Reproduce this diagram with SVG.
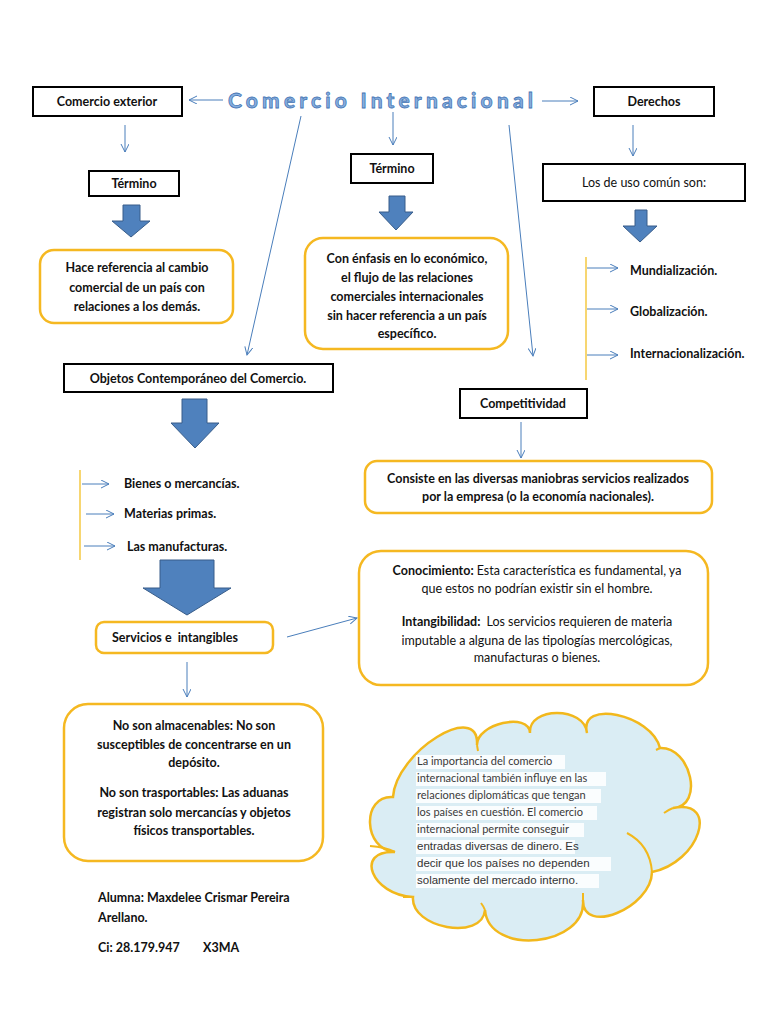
<svg xmlns="http://www.w3.org/2000/svg" width="768" height="1024" viewBox="0 0 768 1024">
<defs>
<marker id="ah" markerWidth="10" markerHeight="10" refX="8" refY="4" orient="auto" markerUnits="userSpaceOnUse">
<path d="M0,0 L8,4 L0,8" fill="none" stroke="#4a7ebb" stroke-width="1"/>
</marker>
<style>
.bx{fill:#fff;stroke:#000;stroke-width:2}
.yb{fill:#fff;stroke:#f5b821;stroke-width:2.5}
.t{font-family:Lato,"Liberation Sans",sans-serif;font-weight:bold;font-size:12.5px;fill:#111}
.n{font-weight:normal}
.c{text-anchor:middle}
.ln{fill:none;stroke:#4a7ebb;stroke-width:1;marker-end:url(#ah)}
.ba{fill:#4f81bd;stroke:#385d8a;stroke-width:1}
.yl{stroke:#f5c842;stroke-width:1.5}
.cl{font-family:Lato,"Liberation Sans",sans-serif;font-size:11px;fill:#3a3a3a}
.ca{font-family:"Liberation Sans",Arial,sans-serif;font-size:11.5px;fill:#333}
.cs{fill:none;stroke:#f2b81c;stroke-width:2.5}
</style>
</defs>
<rect width="768" height="1024" fill="#fff"/>

<g id="title">
<text x="228" y="108" textLength="308" font-family="Lato,'Liberation Sans',sans-serif" font-weight="bold" font-size="21" letter-spacing="3" fill="#86afe0" stroke="#4776b4" stroke-width="0.8">Comercio Internacional</text>
</g>

<g id="connectors">
<line class="ln" x1="223" y1="100" x2="189" y2="100"/>
<line class="ln" x1="542" y1="101" x2="578" y2="101"/>
<line class="ln" x1="125" y1="125" x2="125" y2="152"/>
<line class="ln" x1="301" y1="116" x2="247" y2="355"/>
<line class="ln" x1="393" y1="112" x2="393" y2="145"/>
<line class="ln" x1="509" y1="125" x2="533" y2="356"/>
<line class="ln" x1="633" y1="125" x2="633" y2="156"/>
<line class="ln" x1="521" y1="422" x2="521" y2="458"/>
<line class="ln" x1="287" y1="637" x2="357" y2="618"/>
<line class="ln" x1="187" y1="662" x2="187" y2="697"/>
<line class="yl" x1="586" y1="257" x2="586" y2="380"/>
<line class="ln" x1="587" y1="268" x2="618" y2="268"/>
<line class="ln" x1="587" y1="309" x2="618" y2="309"/>
<line class="ln" x1="587" y1="355" x2="618" y2="355"/>
<line class="yl" x1="80" y1="470" x2="80" y2="560"/>
<line class="ln" x1="82" y1="484" x2="109" y2="484"/>
<line class="ln" x1="86" y1="514" x2="114" y2="514"/>
<line class="ln" x1="84" y1="546" x2="115" y2="546"/>
</g>

<g id="arrows">
<polygon class="ba" points="123,205 140,205 140,221 150,221 131,237 112,221 123,221"/>
<polygon class="ba" points="389,196 405,196 405,212 413,212 396,230 379,212 389,212"/>
<polygon class="ba" points="635,210 647,210 647,226 657,226 640,242 623,226 635,226"/>
<polygon class="ba" points="182,399 207,399 207,423 219,423 195,448 171,423 182,423"/>
<polygon class="ba" points="160,560 214,560 214,588 231,588 187,615 143,588 160,588"/>
</g>

<g id="comercio-exterior">
<rect class="bx" x="33" y="87" width="149" height="29"/>
<text class="t c" x="107" y="106">Comercio exterior</text>
</g>
<g id="derechos">
<rect class="bx" x="594" y="87" width="120" height="29"/>
<text class="t c" x="654" y="106">Derechos</text>
</g>
<g id="termino1">
<rect class="bx" x="89" y="171" width="90" height="25"/>
<text class="t c" x="134" y="188">Término</text>
</g>
<g id="hace-referencia">
<rect class="yb" x="40" y="250" width="193" height="73" rx="14"/>
<text class="t c" x="137" y="272">Hace referencia al cambio</text>
<text class="t c" x="137" y="292">comercial de un país con</text>
<text class="t c" x="137" y="311">relaciones a los demás.</text>
</g>
<g id="termino2">
<rect class="bx" x="351" y="154" width="82" height="29"/>
<text class="t c" x="392" y="173">Término</text>
</g>
<g id="con-enfasis">
<rect class="yb" x="305" y="238" width="203" height="111" rx="18"/>
<text class="t c" x="407" y="263">Con énfasis en lo económico,</text>
<text class="t c" x="407" y="282">el flujo de las relaciones</text>
<text class="t c" x="407" y="301">comerciales internacionales</text>
<text class="t c" x="407" y="320">sin hacer referencia a un país</text>
<text class="t c" x="407" y="338">específico.</text>
</g>
<g id="uso-comun">
<rect class="bx" x="543" y="164" width="202" height="37"/>
<text class="t c n" x="644" y="187">Los de uso común son:</text>
</g>
<g id="derechos-items">
<text class="t" x="630" y="275">Mundialización.</text>
<text class="t" x="630" y="316">Globalización.</text>
<text class="t" x="630" y="358">Internacionalización.</text>
</g>
<g id="objetos">
<rect class="bx" x="64" y="364" width="269" height="28"/>
<text class="t c" x="198" y="383">Objetos Contemporáneo del Comercio.</text>
</g>
<g id="objetos-items">
<text class="t" x="124" y="488">Bienes o mercancías.</text>
<text class="t" x="124" y="518">Materias primas.</text>
<text class="t" x="127" y="551">Las manufacturas.</text>
</g>
<g id="competitividad">
<rect class="bx" x="460" y="389" width="127" height="29"/>
<text class="t c" x="523" y="408">Competitividad</text>
</g>
<g id="consiste">
<rect class="yb" x="365" y="461" width="347" height="52" rx="12"/>
<text class="t c" x="538" y="483">Consiste en las diversas maniobras servicios realizados</text>
<text class="t c" x="538" y="501">por la empresa (o la economía nacionales).</text>
</g>
<g id="servicios">
<rect class="yb" x="96" y="622" width="177" height="31" rx="8"/>
<text class="t c" x="175" y="642">Servicios e&#160; intangibles</text>
</g>
<g id="conocimiento">
<rect class="yb" x="359" y="551" width="349" height="134" rx="22"/>
<text class="t c" x="537" y="575">Conocimiento: <tspan class="n">Esta característica es fundamental, ya</tspan></text>
<text class="t c n" x="537" y="593">que estos no podrían existir sin el hombre.</text>
<text class="t c" x="537" y="626">Intangibilidad:&#160; <tspan class="n">Los servicios requieren de materia</tspan></text>
<text class="t c n" x="537" y="645">imputable a alguna de las tipologías mercológicas,</text>
<text class="t c n" x="537" y="662">manufacturas o bienes.</text>
</g>
<g id="no-son">
<rect class="yb" x="64" y="704" width="259" height="157" rx="24"/>
<text class="t c" x="194" y="730">No son almacenables: No son</text>
<text class="t c" x="194" y="749">susceptibles de concentrarse en un</text>
<text class="t c" x="194" y="767">depósito.</text>
<text class="t c" x="194" y="797">No son trasportables: Las aduanas</text>
<text class="t c" x="194" y="817">registran solo mercancías y objetos</text>
<text class="t c" x="194" y="835">físicos transportables.</text>
</g>
<g id="alumna">
<text class="t" x="98" y="902">Alumna: Maxdelee Crismar Pereira</text>
<text class="t" x="98" y="922">Arellano.</text>
<text class="t" x="98" y="952">Ci: 28.179.947</text>
<text class="t" x="203" y="952">X3MA</text>
</g>
<g id="cloud">
<path class="cs" fill="#daedf4" style="fill:#daedf4" d="M393 797 C395.7 751.7 479.7 699.7 477 745 C476.3 723.7 529.3 711.7 530 733 C528 706.3 585 706.3 587 733 C578.3 699 651.3 714 660 748 C691.3 746.7 704.3 806.7 673 808 C720.3 798.7 699.3 862.7 652 872 C651.3 908 582.3 936 583 900 C587 946.7 489 956.7 485 910 C482.3 941.3 410.3 928.3 413 897 C371.7 895 353.7 850 395 852 C363 850 361 795 393 797 Z"/>
<path class="cs" style="stroke-width:2" d="M627 833 Q650 845 652 872 M370 846 Q385 847 395 852 M403 897 L413 897 M481 903 Q484 907 485 910 M583 893 L583 900 M673 808 Q668 810 664 813 M477 745 L478 751 M660 748 L656 750"/>
<g fill="#fafdfe">
<rect x="416" y="755" width="149" height="14"/>
<rect x="416" y="772" width="190" height="14"/>
<rect x="416" y="789" width="185" height="14"/>
<rect x="416" y="806" width="181" height="14"/>
<rect x="416" y="823" width="168" height="14"/>
<rect x="416" y="840" width="159" height="14"/>
<rect x="416" y="857" width="195" height="14"/>
<rect x="416" y="874" width="183" height="14"/>
</g>
<text class="cl" x="417" y="765">La importancia del comercio</text>
<text class="cl" x="417" y="782">internacional también influye en las</text>
<text class="cl" x="417" y="799">relaciones diplomáticas que tengan</text>
<text class="cl" x="417" y="816">los países en cuestión. El comercio</text>
<text class="cl" x="417" y="833">internacional permite conseguir</text>
<text class="ca" x="417" y="850">entradas diversas de dinero. Es</text>
<text class="ca" x="417" y="867">decir que los países no dependen</text>
<text class="ca" x="417" y="884">solamente del mercado interno.</text>
</g>
</svg>
